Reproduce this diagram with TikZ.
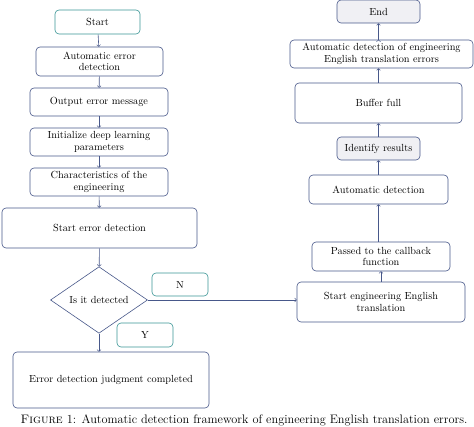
\documentclass[tikz,border=0pt]{standalone}
\usepackage{tikz}
\usetikzlibrary{shapes.geometric}
\definecolor{edgeblue}{RGB}{72,88,138}
\definecolor{tealline}{RGB}{58,150,150}
\definecolor{lightgray}{RGB}{240,240,244}

\begin{document}
\begin{tikzpicture}[x=1pt, y=-1pt, ->, >=to, semithick, font=\fontsize{10.3}{11.5}\selectfont]
  \tikzstyle{box}=[draw=edgeblue, fill=white, rounded corners=4pt, align=center, inner sep=0pt, text=black]
  \tikzstyle{tealbox}=[box, draw=tealline]
  \tikzstyle{graybox}=[box, fill=lightgray]
  \tikzstyle{decision}=[diamond, draw=edgeblue, inner sep=0pt, minimum width=97pt, minimum height=54pt]
  \useasboundingbox (0,0) rectangle (474,427);
  % left column
  \node[tealbox, minimum width=85pt, minimum height=24pt]  (start)    at (97.5,22)  {Start};
  \node[box, minimum width=127pt, minimum height=29pt]     (autoerr)  at (99.5,61.5) {Automatic error\\detection};
  \node[box, minimum width=138pt, minimum height=28pt]     (output)   at (99,102)   {Output error message};
  \node[box, minimum width=138pt, minimum height=28pt]     (init)     at (99,142)   {Initialize deep learning\\parameters};
  \node[box, minimum width=138pt, minimum height=28pt]     (charac)   at (99,182)   {Characteristics of the\\engineering};
  \node[box, minimum width=195pt, minimum height=40pt]     (starterr) at (99.5,228) {Start error detection};
  \node[decision]                                         (detect)   at (99,300)   {Is it detected};
  \node[tealbox, minimum width=56pt, minimum height=23pt]  (no)       at (180,284.5) {N};
  \node[tealbox, minimum width=56pt, minimum height=24pt]  (yes)      at (145,335)  {Y};
  \node[box, minimum width=196pt, minimum height=56pt]     (judged)   at (111,380)  {Error detection judgment completed};
  % right column
  \node[graybox, minimum width=83pt, minimum height=23pt]  (end)      at (378.5,11.5) {End};
  \node[box, minimum width=183pt, minimum height=28pt]     (autotrans) at (381.5,54) {Automatic detection of engineering\\English translation errors};
  \node[box, minimum width=167pt, minimum height=40pt]     (buffer)   at (378.5,103) {Buffer full};
  \node[graybox, minimum width=83pt, minimum height=23pt]  (identify) at (378.5,148.5) {Identify results};
  \node[box, minimum width=139pt, minimum height=29pt]     (autodet)  at (378.5,189.5) {Automatic detection};
  \node[box, minimum width=138pt, minimum height=29pt]     (callback) at (381,256.5) {Passed to the callback\\function};
  \node[box, minimum width=168pt, minimum height=40pt]     (starteng) at (381,302)  {Start engineering English\\translation};
  % caption
  \node[inner sep=0pt, font=\fontsize{12.3}{13}\selectfont] (caption) at (244,420) {\textsc{Figure} 1: Automatic detection framework of engineering English translation errors.};

  \path[draw=edgeblue]
        (start)    edge (autoerr)
        (autoerr)  edge (output)
        (output)   edge (init)
        (init)     edge (charac)
        (charac)   edge (starterr)
        (starterr) edge (detect)
        (detect.south) edge (detect.south |- judged.north)
        (detect)   edge (detect -| starteng.west)
        (starteng.north -| callback) edge (callback)
        (callback.north -| autodet) edge (autodet)
        (autodet)  edge (identify)
        (identify) edge (buffer)
        (buffer)   edge (autotrans.south -| buffer)
        (autotrans.north -| end) edge (end);
\end{tikzpicture}
\end{document}
